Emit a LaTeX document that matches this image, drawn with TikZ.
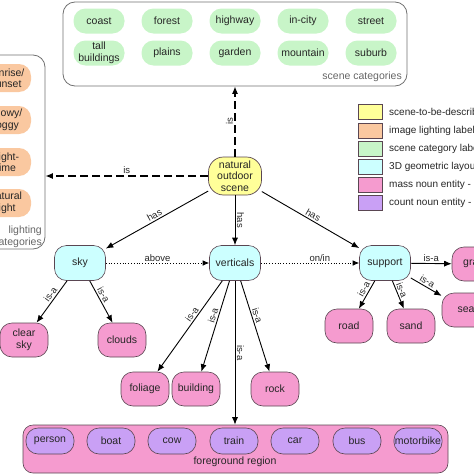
\documentclass[tikz,border=0pt]{standalone}
\usepackage{fontspec}
\setmainfont{Liberation Sans}
\usetikzlibrary{arrows.meta}
\definecolor{SceneYellow}{HTML}{FFFF99}
\definecolor{LightOrange}{HTML}{FAC8A0}
\definecolor{CatGreen}{HTML}{C8F5C8}
\definecolor{LayoutCyan}{HTML}{CCFFFF}
\definecolor{MassPink}{HTML}{F59BCF}
\definecolor{CountPurple}{HTML}{C9A0F5}
\definecolor{NodeEdge}{HTML}{5A4652}
\definecolor{BoxGray}{HTML}{707070}

\begin{document}
\begin{tikzpicture}[x=1pt,y=-1pt,
    tag/.style={rounded corners=12pt,align=center,inner sep=1pt,text=black!85,font=\fontsize{10.5}{11.5}\selectfont},
    scenetag/.style={tag,fill=SceneYellow,draw=NodeEdge,line width=0.7pt,minimum width=53pt,minimum height=38pt,rounded corners=15pt},
    cattag/.style={tag,fill=CatGreen,minimum width=51pt,minimum height=25pt},
    lighttag/.style={tag,fill=LightOrange,minimum width=50pt,minimum height=28pt},
    layouttag/.style={tag,fill=LayoutCyan,draw=NodeEdge,line width=0.6pt,minimum width=51pt,minimum height=35pt},
    masstag/.style={tag,fill=MassPink,draw=NodeEdge,line width=0.6pt,minimum width=48pt,minimum height=34pt},
    counttag/.style={tag,fill=CountPurple,draw=NodeEdge,line width=0.6pt,minimum width=48pt,minimum height=26pt},
    groupbox/.style={rounded corners=12pt,draw=BoxGray,line width=0.8pt},
    grouplabel/.style={text=black!60,font=\fontsize{10.5}{12}\selectfont,inner sep=0pt},
    legendbox/.style={draw=NodeEdge,line width=0.5pt,minimum width=24pt,minimum height=15pt,inner sep=0pt},
    legendtext/.style={anchor=west,inner sep=0pt,text=black!85,font=\fontsize{10}{12}\selectfont},
    hasarrow/.style={-{Latex[length=7.5pt,width=6pt]},line width=0.9pt},
    isdash/.style={hasarrow,line width=1.1pt,dash pattern=on 8pt off 4pt},
    reldot/.style={-{Latex[length=6.5pt,width=5.5pt]},line width=0.8pt,dotted},
    elabel/.style={font=\fontsize{9.5}{10}\selectfont,inner sep=1.5pt,text=black!85,sloped,above}]

\useasboundingbox (0,0) rectangle (474,474);
\clip (0,0) rectangle (474,474);

        \node[groupbox,minimum width=344pt,minimum height=84pt] (scenebox) at (235,44) {};
            \node[cattag] (coast) at (99,21) {coast};
            \node[cattag] (forest) at (167,21) {forest};
            \node[cattag] (highway) at (235,21) {highway};
            \node[cattag] (incity) at (303,21) {in-city};
            \node[cattag] (street) at (371,21) {street};
            \node[cattag] (tall) at (99,53) {tall\\buildings};
            \node[cattag] (plains) at (167,53) {plains};
            \node[cattag] (garden) at (235,53) {garden};
            \node[cattag] (mountain) at (303,53) {mountain};
            \node[cattag] (suburb) at (371,53) {suburb};
        \node[grouplabel,anchor=east] (scenecat) at (402,77) {scene categories};

        \node[groupbox,minimum width=105pt,minimum height=194pt] (lightbox) at (-7.5,152) {};
            \node[lighttag] (sunrise) at (6,78) {sunrise/\\sunset};
            \node[lighttag] (snowy) at (6,120) {snowy/\\foggy};
            \node[lighttag] (night) at (6,162) {night-\\time};
            \node[lighttag] (natural) at (6,203) {natural\\light};
        \node[grouplabel,anchor=east,align=right] (lightcat) at (42,237) {lighting\\categories};

        \node[legendbox,fill=SceneYellow] (leg1) at (370,112) {};
        \node[legendbox,fill=LightOrange] (leg2) at (370,131) {};
        \node[legendbox,fill=CatGreen] (leg3) at (370,149) {};
        \node[legendbox,fill=LayoutCyan] (leg4) at (370,167) {};
        \node[legendbox,fill=MassPink] (leg5) at (370,185) {};
        \node[legendbox,fill=CountPurple] (leg6) at (370,203) {};
        \node[legendtext] at (389,112) {scene-to-be-described};
        \node[legendtext] at (389,131) {image lighting label};
        \node[legendtext] at (389,149) {scene category label};
        \node[legendtext] at (389,167) {3D geometric layout label};
        \node[legendtext] at (389,185) {mass noun entity -};
        \node[legendtext] at (389,203) {count noun entity -};

        \node[scenetag] (scene) at (235,176) {natural\\outdoor\\scene};

        \node[layouttag] (sky) at (80,263) {sky};
        \node[layouttag] (verticals) at (235,263) {verticals};
        \node[layouttag] (support) at (385,263) {support};

        \node[masstag] (clearsky) at (24,340) {clear\\sky};
        \node[masstag] (clouds) at (122,340) {clouds};
        \node[masstag] (foliage) at (145,389) {foliage};
        \node[masstag] (building) at (196,389) {building};
        \node[masstag] (rock) at (275,389) {rock};
        \node[masstag] (road) at (349,326) {road};
        \node[masstag] (sand) at (411,326) {sand};
        \node[masstag] (grass) at (476,264) {grass};
        \node[masstag] (sea) at (466,310) {sea};

        \node[masstag,minimum width=425pt,minimum height=48pt,rounded corners=10pt] (fg) at (235.5,449) {};
            \node[counttag] (person) at (50,441) {person};
            \node[counttag] (boat) at (111,441) {boat};
            \node[counttag] (cow) at (172,441) {cow};
            \node[counttag] (train) at (234,441) {train};
            \node[counttag] (car) at (295,441) {car};
            \node[counttag] (bus) at (357,441) {bus};
            \node[counttag] (motorbike) at (418,441) {motorbike};
        \node[inner sep=0pt,text=black!85,font=\fontsize{10.5}{12}\selectfont] (fglabel) at (235,462) {foreground region};

        \draw[isdash] (scene.north) -- (scenebox.south) node[elabel,midway] {is};
        \draw[isdash] (scene.west) -- (scene.west -| lightbox.east) node[elabel,midway] {is};

        \draw[hasarrow] (scene) -- (sky) node[elabel,midway] {has};
        \draw[hasarrow] (scene) -- (verticals) node[elabel,midway] {has};
        \draw[hasarrow] (scene) -- (support) node[elabel,midway] {has};

        \draw[reldot] (sky) -- (verticals) node[elabel,midway,fill=white,above=0pt,inner sep=1pt] {above};
        \draw[reldot] (verticals) -- (support) node[elabel,pos=0.6,fill=white,above=0pt,inner sep=1pt] {on/in};

        \draw[hasarrow] (sky) -- (clearsky) node[elabel,pos=0.4] {is-a};
        \draw[hasarrow] (sky) -- (clouds) node[elabel,pos=0.4] {is-a};
        \draw[hasarrow] (verticals) -- (foliage) node[elabel,pos=0.4] {is-a};
        \draw[hasarrow] (verticals) -- (building) node[elabel,pos=0.4] {is-a};
        \draw[hasarrow] (verticals) -- (rock) node[elabel,pos=0.4] {is-a};
        \draw[hasarrow] (verticals.south) -- (verticals.south |- fg.north) node[elabel,midway] {is-a};
        \draw[hasarrow] (support) -- (road) node[elabel,pos=0.4] {is-a};
        \draw[hasarrow] (support) -- (sand) node[elabel,pos=0.4] {is-a};
        \draw[hasarrow] (support) -- (grass) node[elabel,midway] {is-a};
        \draw[hasarrow] (support) -- (sea) node[elabel,pos=0.45] {is-a};
\end{tikzpicture}
\end{document}
